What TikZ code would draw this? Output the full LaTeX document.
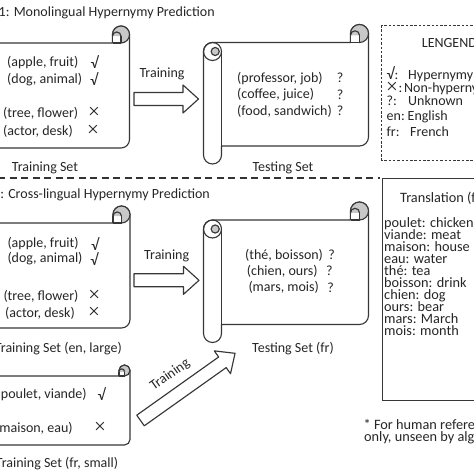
\documentclass[tikz,border=0pt]{standalone}
\usepackage{fontspec}
\setmainfont{Carlito}
\newfontfamily\xfont{Liberation Serif}
\definecolor{curl}{RGB}{200,200,200}
\definecolor{ink}{RGB}{38,38,38}
\definecolor{edge}{RGB}{55,55,55}
\newcommand\hscroll[5]{%
 \pgfmathsetmacro\hsL{#1}%
 \pgfmathsetmacro\hsT{-(#2)}%
 \pgfmathsetmacro\hsR{#3}%
 \pgfmathsetmacro\hsB{-(#4)}%
 \pgfmathsetmacro\hsr{#5}%
 \pgfmathsetmacro\hsc{2*(#5)}%
 \draw[ln, fill=white]
   ({\hsL},{\hsT-\hsr}) arc[start angle=180,end angle=90,radius=\hsr]
   -- ({\hsR-\hsc},{\hsT}) -- ({\hsR-\hsc},{\hsT+\hsr}) arc[start angle=180,end angle=0,radius=\hsr]
   -- ({\hsR},{\hsB+\hsr}) arc[start angle=0,end angle=-90,radius=\hsr]
   -- ({\hsL+\hsc},{\hsB}) -- ({\hsL+\hsc},{\hsB-\hsr}) arc[start angle=0,end angle=-180,radius=\hsr]
   -- cycle;
 \draw[ln] ({\hsL+\hsc},{\hsT-\hsr}) -- ({\hsL+\hsc},{\hsB});
 \draw[ln] ({\hsL+\hsr},{\hsT-\hsr}) circle[radius=\hsr];
 \draw[ln, fill=curl] ({\hsL+1.3*\hsr},{\hsT-\hsr}) circle[radius=0.45*\hsr];
 \draw[ln, fill=curl] ({\hsR-\hsr},{\hsT+\hsr}) circle[radius=\hsr];
 \fill[white] ({\hsR-\hsc+0.6},{\hsT-0.5}) rectangle ({\hsR-\hsr},{\hsT+0.8*\hsr});
 \draw[ln, fill=curl] ({\hsR-\hsr},{\hsT+0.8*\hsr}) arc[start angle=0,end angle=180,radius=0.5*\hsr];
 \draw[ln] ({\hsR-\hsc},{\hsT}) -- ({\hsR-\hsc},{\hsT+0.8*\hsr})
           ({\hsR-\hsr},{\hsT}) -- ({\hsR-\hsr},{\hsT+0.8*\hsr})
           ({\hsR-\hsc},{\hsT}) -- ({\hsR-\hsr},{\hsT});
}
\newcommand\blockarr[4]{%
 \begin{scope}[shift={(#1,-#2)}, rotate=#3]
  \draw[ln, fill=white] (0,-6.5) -- ({#4-15.5},-6.5) -- ({#4-15.5},-14) -- (#4,0)
     -- ({#4-15.5},14) -- ({#4-15.5},6.5) -- (0,6.5) -- cycle;
 \end{scope}}
\newcommand\ck{{\fontsize{16}{16}\selectfont √}}
\newcommand\xx{{\xfont\fontsize{21}{21}\selectfont ×}}
\begin{document}
\begin{tikzpicture}[x=1pt,y=1pt,
  ln/.style={line width=1.15pt, draw=edge, line join=round},
  txt/.style={font=\fontsize{14}{17}\selectfont, inner sep=0pt, anchor=base west, text=ink},
  ttx/.style={txt, font=\fontsize{14.3}{15}\selectfont},
  sym/.style={inner sep=0pt, anchor=center, text=ink, font=\fontsize{14}{17}\selectfont}]
\useasboundingbox (0,0) rectangle (474,-474);
\clip (0,0) rectangle (474,-474);
% ---------- Task 1 ----------
\node[txt] (title1) at (-1.5,-16.5) {1: Monolingual Hypernymy Prediction};
\hscroll{-45}{43}{129.5}{148}{8.5}
\node[txt] (a1) at (7,-66) {(apple, fruit)};
\node[txt] (a2) at (7,-83.5) {(dog, animal)};
\node[txt] (a3) at (3,-117.5) {(tree, flower)};
\node[txt] (a4) at (3,-135.5) {(actor, desk)};
\node[sym] (s1) at (94.5,-62) {\ck};
\node[sym] (s2) at (94,-79.3) {\ck};
\node[sym] (s3) at (94,-113) {\xx};
\node[sym] (s4) at (93,-131) {\xx};
\node[txt, anchor=base] (lab1) at (45,-171.5) {Training Set};
\blockarr{134}{99}{0}{64.5}
\node[txt, anchor=base] (tr1) at (162,-77.5) {Training};
\hscroll{203.5}{42.5}{368.5}{146}{9}
\node[txt] (b1) at (237,-82.5) {(professor, job)};
\node[txt] (b2) at (237,-98.5) {(coffee, juice)};
\node[txt] (b3) at (237,-115.5) {(food, sandwich)};
\node[sym] (q1) at (340,-78) {?};
\node[sym] (q2) at (340,-94.3) {?};
\node[sym] (q3) at (340,-111) {?};
\node[txt, anchor=base] (lab2) at (283,-171) {Testing Set};
% legend
\draw[line width=0.9pt, draw=edge, dash pattern=on 2.5pt off 1.8pt] (381.7,-25) rectangle (490,-160);
\node[txt] (leg) at (421.7,-47.5) {LENGEND};
\node[txt] (l1a) at (386.5,-79) {\ck:};
\node[txt] (l1b) at (408,-79) {Hypernymy};
\node[sym] (l2a) at (392,-88) {\xx};
\node[txt] (l2c) at (398.5,-92.5) {:};
\node[txt] (l2b) at (404,-92.5) {Non-hypernymy};
\node[txt] (l3a) at (386.5,-105.5) {?:};
\node[txt] (l3b) at (408,-105.5) {Unknown};
\node[txt] (l4a) at (386.5,-120.5) {en:};
\node[txt] (l4b) at (407.5,-120.5) {English};
\node[txt] (l5a) at (386.5,-136) {fr:};
\node[txt] (l5b) at (410,-136) {French};
% separator
\draw[line width=1.7pt, draw=black!80, dash pattern=on 7pt off 4.5pt] (-2,-178) -- (380,-178);
% ---------- Task 2 ----------
\node[txt] (title2) at (-7,-198.5) {2: Cross-lingual Hypernymy Prediction};
\hscroll{-45}{223}{130}{328}{8.5}
\node[txt] (c1) at (7.3,-247.8) {(apple, fruit)};
\node[txt] (c2) at (7.3,-262.8) {(dog, animal)};
\node[txt] (c3) at (3.3,-300.5) {(tree, flower)};
\node[txt] (c4) at (5,-317.5) {(actor, desk)};
\node[sym] (u1) at (95,-244) {\ck};
\node[sym] (u2) at (94.3,-259.3) {\ck};
\node[sym] (u3) at (94.3,-295.7) {\xx};
\node[sym] (u4) at (94,-312.7) {\xx};
\node[txt, anchor=base east] (lab3) at (122,-352.8) {Training Set (en, large)};
\blockarr{134}{280.3}{0}{65}
\node[txt, anchor=base] (tr2) at (166.7,-259.5) {Training};
\hscroll{203.5}{220}{368.5}{324.5}{9}
\node[txt] (d1) at (245,-259.5) {(thé, boisson)};
\node[txt] (d2) at (246.7,-275.5) {(chien, ours)};
\node[txt] (d3) at (248.3,-291.8) {(mars, mois)};
\node[sym] (p1) at (331.7,-255) {?};
\node[sym] (p2) at (329.3,-271) {?};
\node[sym] (p3) at (330.7,-287.3) {?};
\node[txt, anchor=base] (lab4) at (293,-352.8) {Testing Set (fr)};
\hscroll{-45}{376}{130}{445}{5.5}
\node[txt] (e1) at (-3.5,-398.5) {(poulet, viande)};
\node[txt] (e2) at (-5,-432.8) {(maison, eau)};
\node[sym] (v1) at (101.7,-394) {\ck};
\node[sym] (v2) at (100,-428.3) {\xx};
\node[txt, anchor=base east] (lab5) at (118.3,-467.2) {Training Set (fr, small)};
\blockarr{140.5}{420.5}{35.4}{116}
\node[txt, anchor=center, rotate=35.4] (tr3) at (170,-375) {Training};
% translation box
\draw[line width=0.9pt, draw=edge] (382.7,-178.3) rectangle (490,-400);
\node[ttx] (tt) at (400,-202.8) {Translation (fr)};
\node[ttx] (w1) at (384,-227) {poulet: chicken};
\node[ttx] (w2) at (384,-239.1) {viande: meat};
\node[ttx] (w3) at (384,-251.2) {maison: house};
\node[ttx] (w4) at (384,-263.3) {eau: water};
\node[ttx] (w5) at (384,-275.4) {thé: tea};
\node[ttx] (w6) at (384,-287.5) {boisson: drink};
\node[ttx] (w7) at (384,-299.6) {chien: dog};
\node[ttx] (w8) at (384,-311.7) {ours: bear};
\node[ttx] (w9) at (384,-323.8) {mars: March};
\node[ttx] (w10) at (384,-335.9) {mois: month};
\node[ttx] (f1) at (363.5,-429.5) {* For human reference};
\node[ttx] (f2) at (364,-441.2) {only, unseen by algorithms};
\end{tikzpicture}
\end{document}
